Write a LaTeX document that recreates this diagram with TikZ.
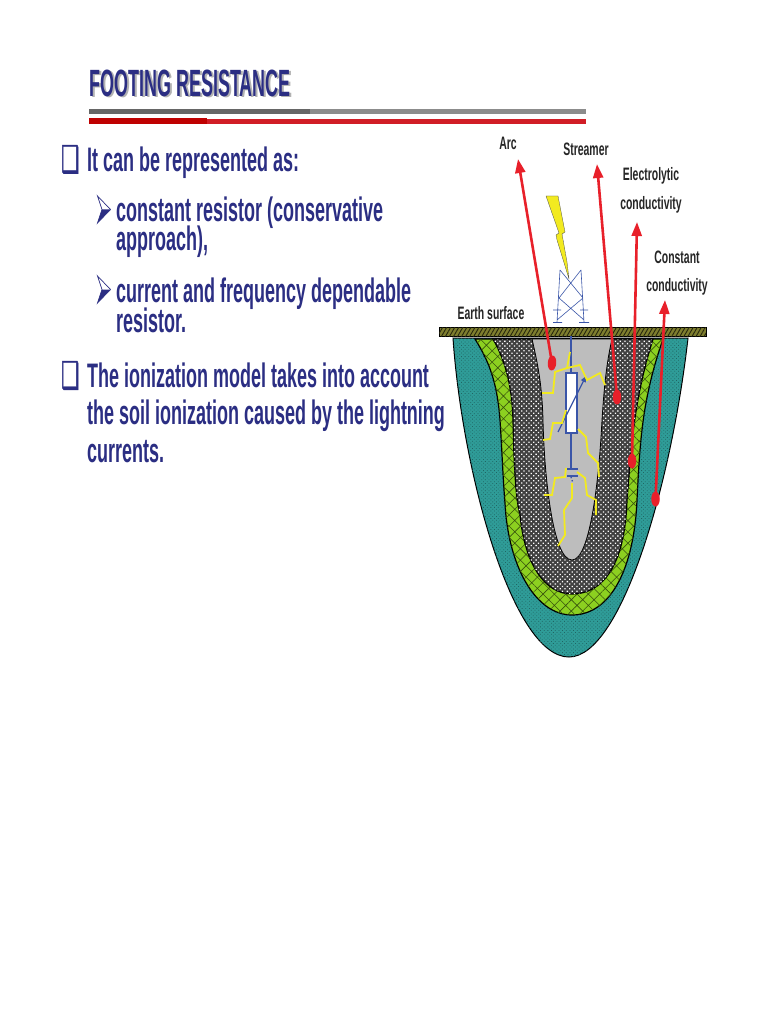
\documentclass[tikz,border=0pt]{standalone}
\usepackage{fontspec}
\usetikzlibrary{patterns.meta,arrows.meta,shapes.geometric}
\newfontfamily\bodyfont[FakeStretch=0.529]{Liberation Sans Bold}
\newfontfamily\titlefont[FakeStretch=0.472]{Liberation Sans Bold}
\newfontfamily\labfont[FakeStretch=0.58]{Liberation Sans Bold}
\newfontfamily\symfont[FakeStretch=0.55,FakeBold=1]{DejaVu Sans}
\definecolor{navy}{HTML}{2B2E83}
\definecolor{teal1}{HTML}{2F9C98}
\definecolor{leaf}{HTML}{8CD020}
\definecolor{soilgray}{HTML}{BDBDBD}
\definecolor{olive1}{HTML}{7E7E2E}
\definecolor{arrowred}{HTML}{E8202A}
\definecolor{wire}{HTML}{3A55A8}
\definecolor{bolt}{HTML}{F2EA20}
\tikzset{
 body/.style={anchor=base west,inner sep=0pt,text=navy,font=\bodyfont\fontsize{34}{34}\selectfont},
 sym/.style={anchor=base west,inner sep=0pt,text=navy},
 boxbullet/.style={sym,font=\symfont\fontsize{37}{37}\selectfont},
 arrowbullet/.pic={
   \draw[navy,line width=.7pt,line join=miter,fill=white] (0,0) -- (13,13.5) -- (0,27) -- (4.5,13.5) -- cycle;
   \fill[navy] (4.5,13.5) -- (13,13.5) -- (0,27) -- cycle;
 },
 lab/.style={inner sep=0pt,text=black!85,font=\labfont\fontsize{18}{18}\selectfont},
 ttl/.style={anchor=base west,inner sep=0pt,font=\titlefont\fontsize{38}{38}\selectfont},
 redarrow/.style={draw=arrowred,line width=2.6pt,-{Triangle[length=14pt,width=10pt]}},
 reddot/.style={ellipse,fill=arrowred,inner sep=0pt,minimum width=8.5pt,minimum height=15pt},
 boltline/.style={draw=bolt,line width=1.8pt},
 wireline/.style={draw=wire,line width=1.3pt},
 tower/.style={draw=wire,line width=.6pt},
}
\begin{document}
\begin{tikzpicture}[x=1pt,y=-1pt]
\useasboundingbox[fill=white] (0,0) rectangle (768,1024);
% title
\node[ttl,text=black!30] (titleshadow) at (91.5,98) {FOOTING RESISTANCE};
\node[ttl,text=navy] (title) at (89.5,96.5) {FOOTING RESISTANCE};
\fill[black!60] (89,109) rectangle (310,114);
\fill[black!45] (310,109) rectangle (586,114);
\fill[red!75!black] (89,118.5) rectangle (207,124);
\fill[arrowred!90!black] (207,119.5) rectangle (586,124);
% text
\node[boxbullet] (b1) at (61,172) {❑};
\node[body] (t1) at (87,172) {It can be represented as:};
\pic at (97.5,196) {arrowbullet};
\node[body] (t2) at (116,222) {constant resistor (conservative};
\node[body] (t3) at (116,250) {approach),};
\pic at (97.5,276) {arrowbullet};
\node[body] (t4) at (116,302) {current and frequency dependable};
\node[body] (t5) at (116,332) {resistor.};
\node[boxbullet] (b4) at (61,388) {❑};
\node[body] (t6) at (87,387) {The ionization model takes into account};
\node[body] (t7) at (87,424) {the soil ionization caused by the lightning};
\node[body] (t8) at (87,462) {currents.};
% soil layers
\draw[line width=1pt,fill=teal1,postaction={pattern={Dots[radius=.55pt,distance=2.6pt,angle=45]},pattern color=black!35!teal1}]
 (453,338) .. controls (462,470) and (512,657) .. (569,657) .. controls (622,657) and (672,480) .. (688,338) -- cycle;
\draw[line width=1.2pt,fill=leaf,postaction={pattern={Hatch[angle=45,distance=8pt,line width=.6pt]},pattern color=black!60!leaf}]
 (475,339) .. controls (488,360) and (497,380) .. (500,420) .. controls (502,450) and (503,480) .. (505,503)
 .. controls (508,565) and (535,615) .. (572,615) .. controls (610,615) and (634,570) .. (637,500)
 .. controls (640,440) and (642,400) .. (663,339) -- cycle;
\draw[line width=1.2pt,fill=black!75,postaction={pattern={Dots[radius=.9pt,distance=3.4pt,angle=45]},pattern color=white}]
 (493,339) .. controls (505,360) and (512,385) .. (513,420) .. controls (514,470) and (516,500) .. (520,515)
 .. controls (525,565) and (545,594) .. (572,594) .. controls (603,594) and (625,565) .. (627,500)
 .. controls (632,440) and (634,400) .. (653,339) -- cycle;
\draw[line width=.8pt,fill=soilgray]
 (532,339) .. controls (538,365) and (542,385) .. (543,420) .. controls (544,470) and (552,560) .. (572,560)
 .. controls (590,560) and (599,480) .. (602,420) .. controls (604,390) and (606,365) .. (612,339) -- cycle;
% earth surface
\draw[line width=.6pt,fill=olive1,postaction={pattern={Lines[angle=60,distance=3.5pt,line width=.9pt]},pattern color=black!70!olive1}] (439,327) rectangle (706,336);
% grounding model
\draw[wireline] (571,336) -- (571,373);
\draw[wireline] (571,433) -- (571,469);
\node[draw=wire,line width=1.3pt,fill=white,minimum width=11pt,minimum height=60pt,inner sep=0pt] (res) at (571.5,403) {};
\coordinate (arrA) at (558,432); \coordinate (arrB) at (586,376);
\draw[wireline,-{Triangle[length=6pt,width=5pt]}] (arrA) -- (arrB);
\draw[wireline] (567,469) -- (578,469);
\draw[wireline] (567,476) -- (578,476);
\draw[wireline,dotted] (571,477) -- (573,483);
% yellow discharge
\draw[boltline] (542,393) -- (553,393) -- (555,372) -- (567,368) -- (570,352);
\draw[boltline] (567,368) -- (580,365) -- (587,380) -- (600,373) -- (605,385);
\draw[boltline] (566,410) -- (562,423) -- (553,423) -- (550,439) -- (543,440);
\draw[boltline] (578,429) -- (586,437) -- (588,453) -- (598,463) -- (599,477);
\draw[boltline] (566,468) -- (565,477) -- (555,478) -- (552,495) -- (544,495);
\draw[boltline] (577,472) -- (585,478) -- (587,495) -- (596,500) -- (596,515);
\draw[boltline] (572,483) -- (572,498) -- (564,510) -- (565,535) -- (558,546);
% tower
\draw[tower] (560,270) -- (557,322) (581,270) -- (584,322)
 (560,270) -- (583,298) (581,270) -- (559,298) (559,298) -- (584,320) (583,298) -- (557,320)
 (553,310) -- (561,310) (580,310) -- (588,310) (553,322.5) -- (562,322.5) (579,322.5) -- (589,322.5);
% lightning
\draw[draw=black!70,line width=.3pt,fill=bolt] (546,196) -- (558,196) -- (565,232) -- (562,234) -- (567,262) -- (569,279) -- (557,240) -- (556,235) -- (559,233) -- cycle;
% red arrows
\node[reddot,rotate=-5] (dArc) at (552,363) {};
\node[reddot] (dStream) at (617,397) {};
\node[reddot] (dElec) at (632,461) {};
\node[reddot] (dConst) at (655.5,499) {};
\coordinate (tArc) at (518,159);
\coordinate (tStream) at (597,164);
\coordinate (tElec) at (637,222);
\coordinate (tConst) at (665,300);
\draw[redarrow] (dArc.center) -- (tArc);
\draw[redarrow] (dStream.center) -- (tStream);
\draw[redarrow] (dElec.center) -- (tElec);
\draw[redarrow] (dConst.center) -- (tConst);
% labels
\node[lab] (lArc) at (508,143) {Arc};
\node[lab] (lStream) at (586,149) {Streamer};
\node[lab] (lE1) at (651,176) {Electrolytic};
\node[lab] (lE2) at (651,205) {conductivity};
\node[lab] (lC1) at (677,257) {Constant};
\node[lab] (lC2) at (677,287) {conductivity};
\node[lab] (lEarth) at (491,313) {Earth surface};
\end{tikzpicture}
\end{document}
